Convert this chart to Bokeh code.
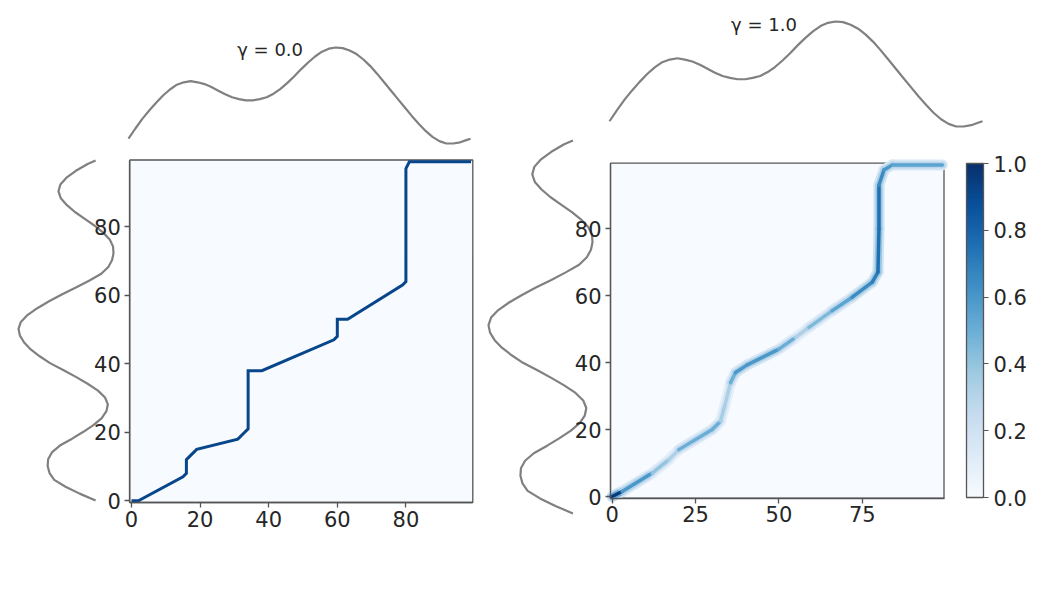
from bokeh.plotting import figure
from bokeh.models import (Range1d, LinearAxis, FixedTicker, ColumnDataSource,
                          LinearColorMapper, ColorBar, PrintfTickFormatter, Label)
from bokeh.palettes import Blues256
from bokeh.embed import file_html
from bokeh.resources import INLINE

# ---------------- data ----------------
# top time series (indexed by i, horizontal axis of the alignment matrix)
top_idx = [0, 2, 4, 6, 8, 10, 12, 14, 16, 18, 20, 22, 24, 26, 28, 30, 32, 34,
           36, 38, 40, 42, 44, 46, 48, 50, 52, 54, 56, 58, 60, 62, 64, 66, 68,
           70, 72, 74, 76, 78, 80, 82, 84, 86, 88, 90, 92, 94, 96, 98, 99]
top_val = [0.03, 0.20, 0.36, 0.50, 0.63, 0.75, 0.85, 0.93, 0.97, 0.99, 0.97,
           0.94, 0.89, 0.83, 0.77, 0.72, 0.69, 0.67, 0.67, 0.69, 0.72, 0.78,
           0.86, 0.96, 1.07, 1.19, 1.30, 1.40, 1.48, 1.53, 1.55, 1.54, 1.50,
           1.44, 1.35, 1.24, 1.11, 0.97, 0.83, 0.69, 0.55, 0.41, 0.28, 0.16,
           0.06, -0.01, -0.05, -0.05, -0.03, 0.01, 0.03]
# left time series (indexed by j, vertical axis of the alignment matrix)
left_idx = [0, 2, 4, 6, 8, 10, 12, 14, 16, 18, 20, 22, 24, 26, 28, 30, 32, 34,
            36, 38, 40, 42, 44, 46, 48, 50, 52, 54, 56, 58, 60, 62, 64, 66, 68,
            70, 72, 74, 76, 78, 80, 82, 84, 86, 88, 90, 92, 94, 96, 98, 99]
left_val = [0.64, 0.30, 0.00, -0.24, -0.34, -0.38, -0.37, -0.29, -0.12, 0.14,
            0.38, 0.60, 0.77, 0.87, 0.90, 0.84, 0.69, 0.47, 0.22, -0.05, -0.33,
            -0.55, -0.74, -0.88, -0.97, -1.00, -0.95, -0.81, -0.60, -0.35,
            -0.08, 0.22, 0.50, 0.76, 0.91, 0.99, 1.02, 1.01, 0.94, 0.80, 0.62,
            0.41, 0.20, 0.03, -0.10, -0.15, -0.11, 0.02, 0.22, 0.47, 0.64]

# hard alignment path (gamma = 0.0)
path0_i = [0, 2, 15, 16, 16, 19, 31, 33, 34, 34, 38, 59, 60, 60, 63, 79, 80, 80, 81, 99]
path0_j = [0, 0, 7, 8, 12, 15, 18, 20, 21, 38, 38, 47, 48, 53, 53, 63, 64, 97, 99, 99]
path0_w = 0.92

# soft alignment (gamma = 1.0): centre line and intensity of each segment
soft_i = [0, 3, 12, 17, 20, 30, 32.5, 34, 35.5, 37, 40.5, 50, 55, 59, 66, 72,
          78, 79.7, 80, 80, 81.5, 84, 99]
soft_j = [0, 1.5, 7, 11, 14, 20, 22.5, 28, 34, 37, 39.3, 44, 47.5, 50.5, 55.5,
          59.5, 64, 67, 80, 93, 97.5, 99, 99]
soft_w = [0.95, 0.6, 0.4, 0.33, 0.5, 0.5, 0.35, 0.33, 0.5, 0.6, 0.6, 0.5, 0.33,
          0.45, 0.55, 0.65, 0.7, 0.75, 0.75, 0.65, 0.6, 0.55]

titles = ["γ = 0.0", "γ = 1.0"]
x_ticks = [[0, 20, 40, 60, 80], [0, 25, 50, 75]]
y_ticks = [0, 20, 40, 60, 80]
cb_ticks = [0.0, 0.2, 0.4, 0.6, 0.8, 1.0]

N = top_idx[-1] + 1

# ---------------- layout helpers (page pixels -> ranges) ----------------
W, H = 1035, 598
M = 0


def xr(d0, p0, d1, p1):
    p0 -= M
    p1 -= M
    s = (d1 - d0) / (p1 - p0)
    return Range1d(d0 - p0 * s, d0 + (W - p0) * s)


def yr(d0, p0, d1, p1):
    b0 = H - (p0 - M)
    b1 = H - (p1 - M)
    s = (d1 - d0) / (b1 - b0)
    return Range1d(d0 - b0 * s, d0 + (H - b0) * s)


p = figure(width=W, height=H, x_range=Range1d(0, W), y_range=Range1d(0, H),
           x_axis_type=None, y_axis_type=None, toolbar_location=None,
           output_backend="svg", min_border=0, outline_line_color=None)
p.background_fill_color = "white"
p.border_fill_color = "white"

p.extra_x_ranges = {
    "h1x": xr(-0.5, 129.3, 99.5, 472.3),
    "h2x": xr(-0.5, 610.0, 99.5, 943.5),
    "t1x": xr(0, 128, 99, 470),
    "t2x": xr(0, 609, 99, 982),
    "l1x": xr(-1.0, 18, 1.02, 113),
    "l2x": xr(-1.0, 488, 1.02, 592),
}
p.extra_y_ranges = {
    "h1y": yr(-0.5, 502.0, 99.5, 159.5),
    "h2y": yr(-0.5, 497.7, 99.5, 162.7),
    "t1y": yr(-0.05, 143, 1.55, 47),
    "t2y": yr(-0.05, 126, 1.55, 21),
    "l1y": yr(0, 500, 99, 160),
    "l2y": yr(0, 513, 99, 140),
}

pal = list(reversed(Blues256))
mapper = LinearColorMapper(palette=pal, low=0, high=1)
mid_mapper = LinearColorMapper(palette=pal, low=0, high=1.9)
halo_mapper = LinearColorMapper(palette=pal, low=0, high=3.8)

SPINE = "#555555"
TXT = "#262626"
CURVE = "#808080"
FONT = "DejaVu Sans"

top_src = ColumnDataSource(dict(i=top_idx, v=top_val))
left_src = ColumnDataSource(dict(j=left_idx, w=left_val))
soft_src = ColumnDataSource(dict(x0=soft_i[:-1], x1=soft_i[1:],
                                 y0=soft_j[:-1], y1=soft_j[1:], w=soft_w))

for k in range(2):
    hx, hy = "h%dx" % (k + 1), "h%dy" % (k + 1)
    tx, ty = "t%dx" % (k + 1), "t%dy" % (k + 1)
    lx, ly = "l%dx" % (k + 1), "l%dy" % (k + 1)

    # matrix background (value 0 of the colormap) with its frame
    p.quad(left=-0.5, right=N - 0.5, bottom=-0.5, top=N - 0.5,
           fill_color=pal[0], line_color=SPINE, line_width=1.3,
           x_range_name=hx, y_range_name=hy)

    if k == 0:
        p.line(path0_i, path0_j, line_color=pal[int(path0_w * 255)], line_width=3.0,
               line_join="miter", x_range_name=hx, y_range_name=hy)
    else:
        p.segment("x0", "y0", "x1", "y1", source=soft_src, line_width=11,
                  line_cap="round",
                  line_color={"field": "w", "transform": halo_mapper},
                  x_range_name=hx, y_range_name=hy)
        p.segment("x0", "y0", "x1", "y1", source=soft_src, line_width=7,
                  line_cap="round",
                  line_color={"field": "w", "transform": mid_mapper},
                  x_range_name=hx, y_range_name=hy)
        p.segment("x0", "y0", "x1", "y1", source=soft_src, line_width=3.5,
                  line_cap="round",
                  line_color={"field": "w", "transform": mapper},
                  x_range_name=hx, y_range_name=hy)

    # series curves
    p.line("i", "v", source=top_src, line_color=CURVE, line_width=2.2,
           x_range_name=tx, y_range_name=ty)
    p.line("w", "j", source=left_src, line_color=CURVE, line_width=2.2,
           x_range_name=lx, y_range_name=ly)

    # axes of the matrix
    xa = LinearAxis(x_range_name=hx, y_range_name=hy, fixed_location=-0.5,
                    bounds=(-0.5, N - 0.5), ticker=FixedTicker(ticks=x_ticks[k]))
    ya = LinearAxis(x_range_name=hx, y_range_name=hy, fixed_location=-0.5,
                    bounds=(-0.5, N - 0.5), ticker=FixedTicker(ticks=y_ticks))
    for ax in (xa, ya):
        ax.axis_line_color = SPINE
        ax.axis_line_width = 1.3
        ax.major_tick_line_color = SPINE
        ax.major_tick_line_width = 1.3
        ax.major_tick_in = 0
        ax.major_tick_out = 5
        ax.minor_tick_line_color = None
        ax.major_label_text_font = FONT
        ax.major_label_text_font_size = "21px"
        ax.major_label_text_color = TXT
    xa.major_label_standoff = 3
    ya.major_label_standoff = 4
    p.add_layout(xa, "below")
    p.add_layout(ya, "left")

    p.add_layout(Label(x=41, y=1.51, x_range_name=tx, y_range_name=ty,
                       text=titles[k], text_align="center", text_baseline="middle",
                       text_font=FONT, text_font_size="18px", text_color=TXT))

cb = ColorBar(color_mapper=mapper, location=(966, 101), width=17, height=334,
              padding=0, margin=0, ticker=FixedTicker(ticks=cb_ticks),
              formatter=PrintfTickFormatter(format="%.1f"),
              major_label_text_font=FONT, major_label_text_font_size="21px",
              major_label_text_color=TXT, bar_line_color=SPINE, bar_line_width=1.3,
              major_tick_in=0, major_tick_out=5, major_tick_line_color=SPINE,
              minor_tick_line_color=None, label_standoff=5,
              background_fill_alpha=0, border_line_color=None)
p.add_layout(cb)

open("out.html", "w").write(file_html(p, INLINE))
